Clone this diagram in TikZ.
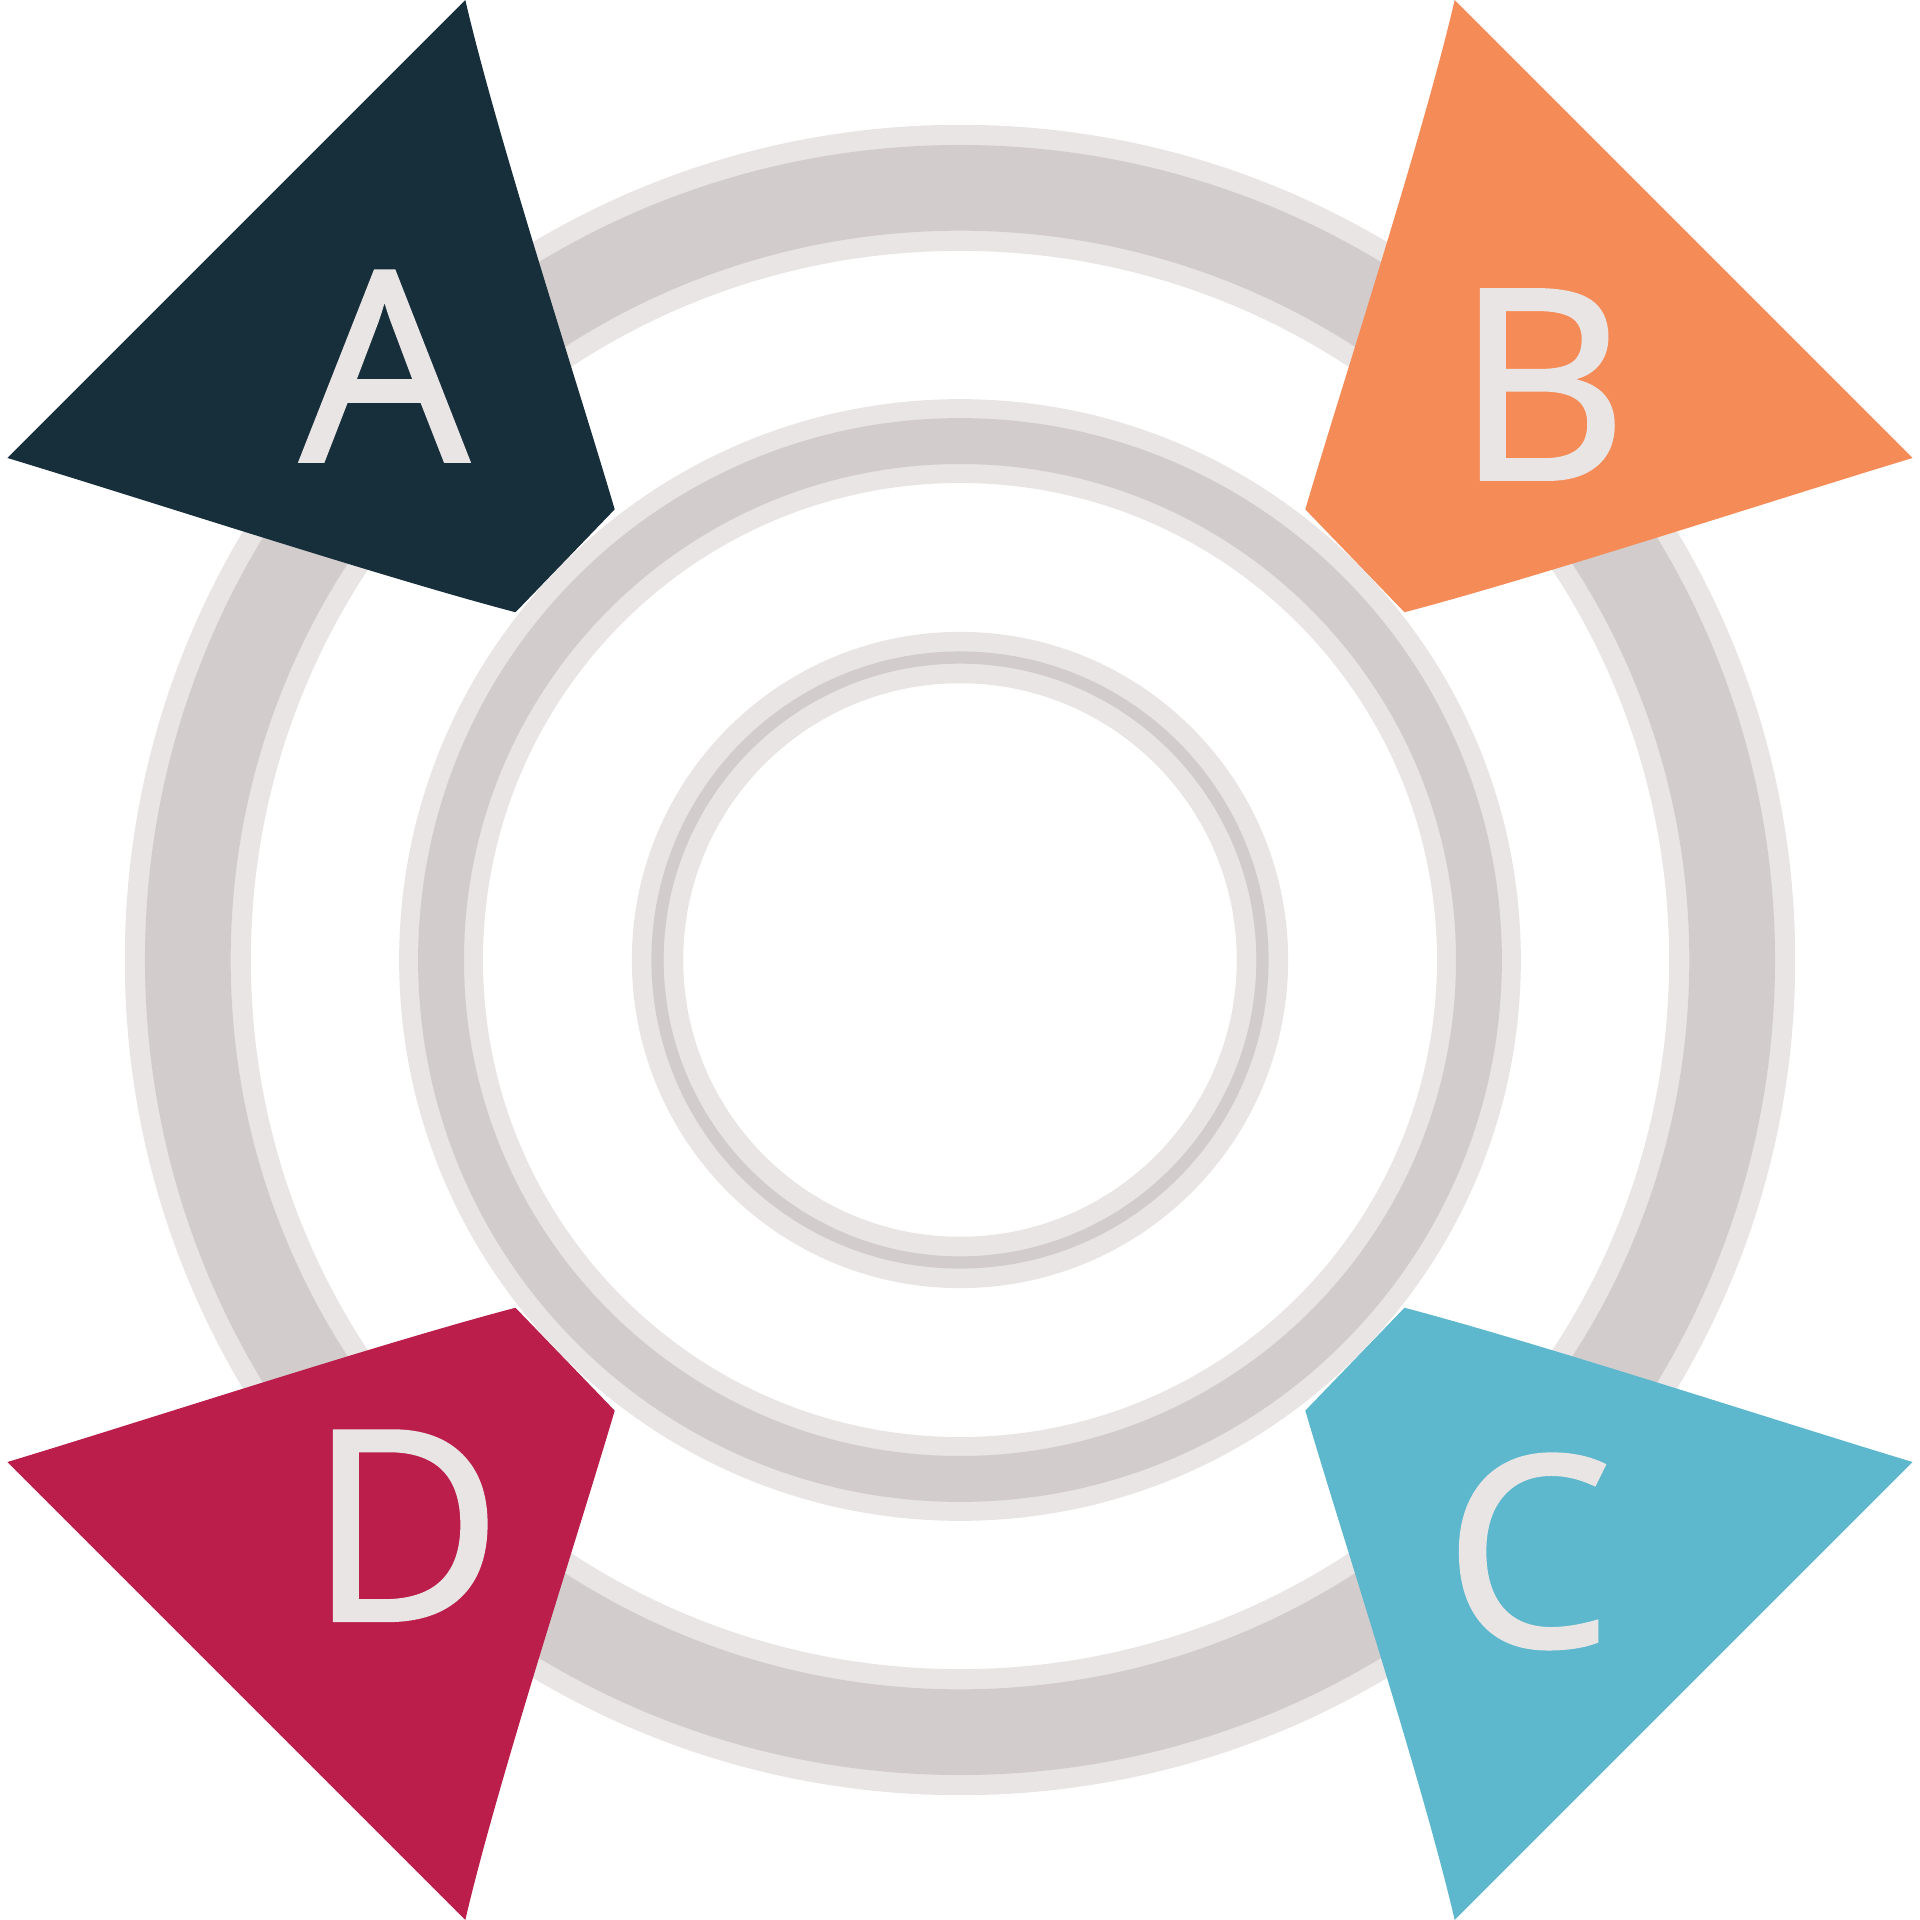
\documentclass[tikz,border=0pt]{standalone}
\usepackage{fontspec}
\setmainfont{Open Sans}
\newfontfamily\letterfont{Open Sans}[FakeBold=1.5]
\usepackage{tikz}
\usepackage{tkz-euclide}

\definecolor{ringpale}{HTML}{E9E5E4}
\definecolor{ringmid}{HTML}{D2CDCC}
\definecolor{navyA}{HTML}{172E3B}
\definecolor{orangeB}{HTML}{F58B57}
\definecolor{cyanC}{HTML}{5DB7CD}
\definecolor{crimsonD}{HTML}{BB1E4B}

\tikzset{
	pennant/.pic={
		\fill[pic actions] (-404,784) .. controls (-378,672) and (-312,470) .. (-282,368)
			-- (-363,284) .. controls (-470,312) and (-672,378) .. (-778,410) -- cycle;
	},
	paleband/.style={draw=ringpale},
	midband/.style={draw=ringmid},
	letter/.style={text=ringpale, inner sep=0pt, font=\letterfont\fontsize{123}{150}\selectfont}
}

\begin{document}
\begin{tikzpicture}[x=0.02cm, y=0.02cm]
						\useasboundingbox (-784,-783.2) rectangle (784,784);
						\tkzDefPoint(0,0){O};
						\tkzDefPoint(-470,485){pA};
						\tkzDefPoint(475,470){pB};
						\tkzDefPoint(464,-483){pC};
						\tkzDefPoint(-453,-462){pD};
						
						% outer ring, under the pennants
						\draw[paleband, line width=2.06cm] (O) circle (630.6);
						\draw[midband, line width=1.40cm] (O) circle (630.6);
						
						\pic (arrA) [fill=navyA] {pennant};
						\pic (arrB) [fill=orangeB, xscale=-1] {pennant};
						\pic (arrC) [fill=cyanC, xscale=-1, yscale=-1] {pennant};
						\pic (arrD) [fill=crimsonD, yscale=-1] {pennant};
						
						% middle and inner rings
						\draw[paleband, line width=1.37cm] (O) circle (423.8);
						\draw[midband, line width=0.75cm] (O) circle (423.8);
						\draw[paleband, line width=0.84cm] (O) circle (247);
						\draw[midband, line width=0.20cm] (O) circle (247);
						
						\node[letter] (labA) at (pA) {A};
						\node[letter] (labB) at (pB) {B};
						\node[letter] (labC) at (pC) {C};
						\node[letter] (labD) at (pD) {D};
					\end{tikzpicture}
\end{document}
